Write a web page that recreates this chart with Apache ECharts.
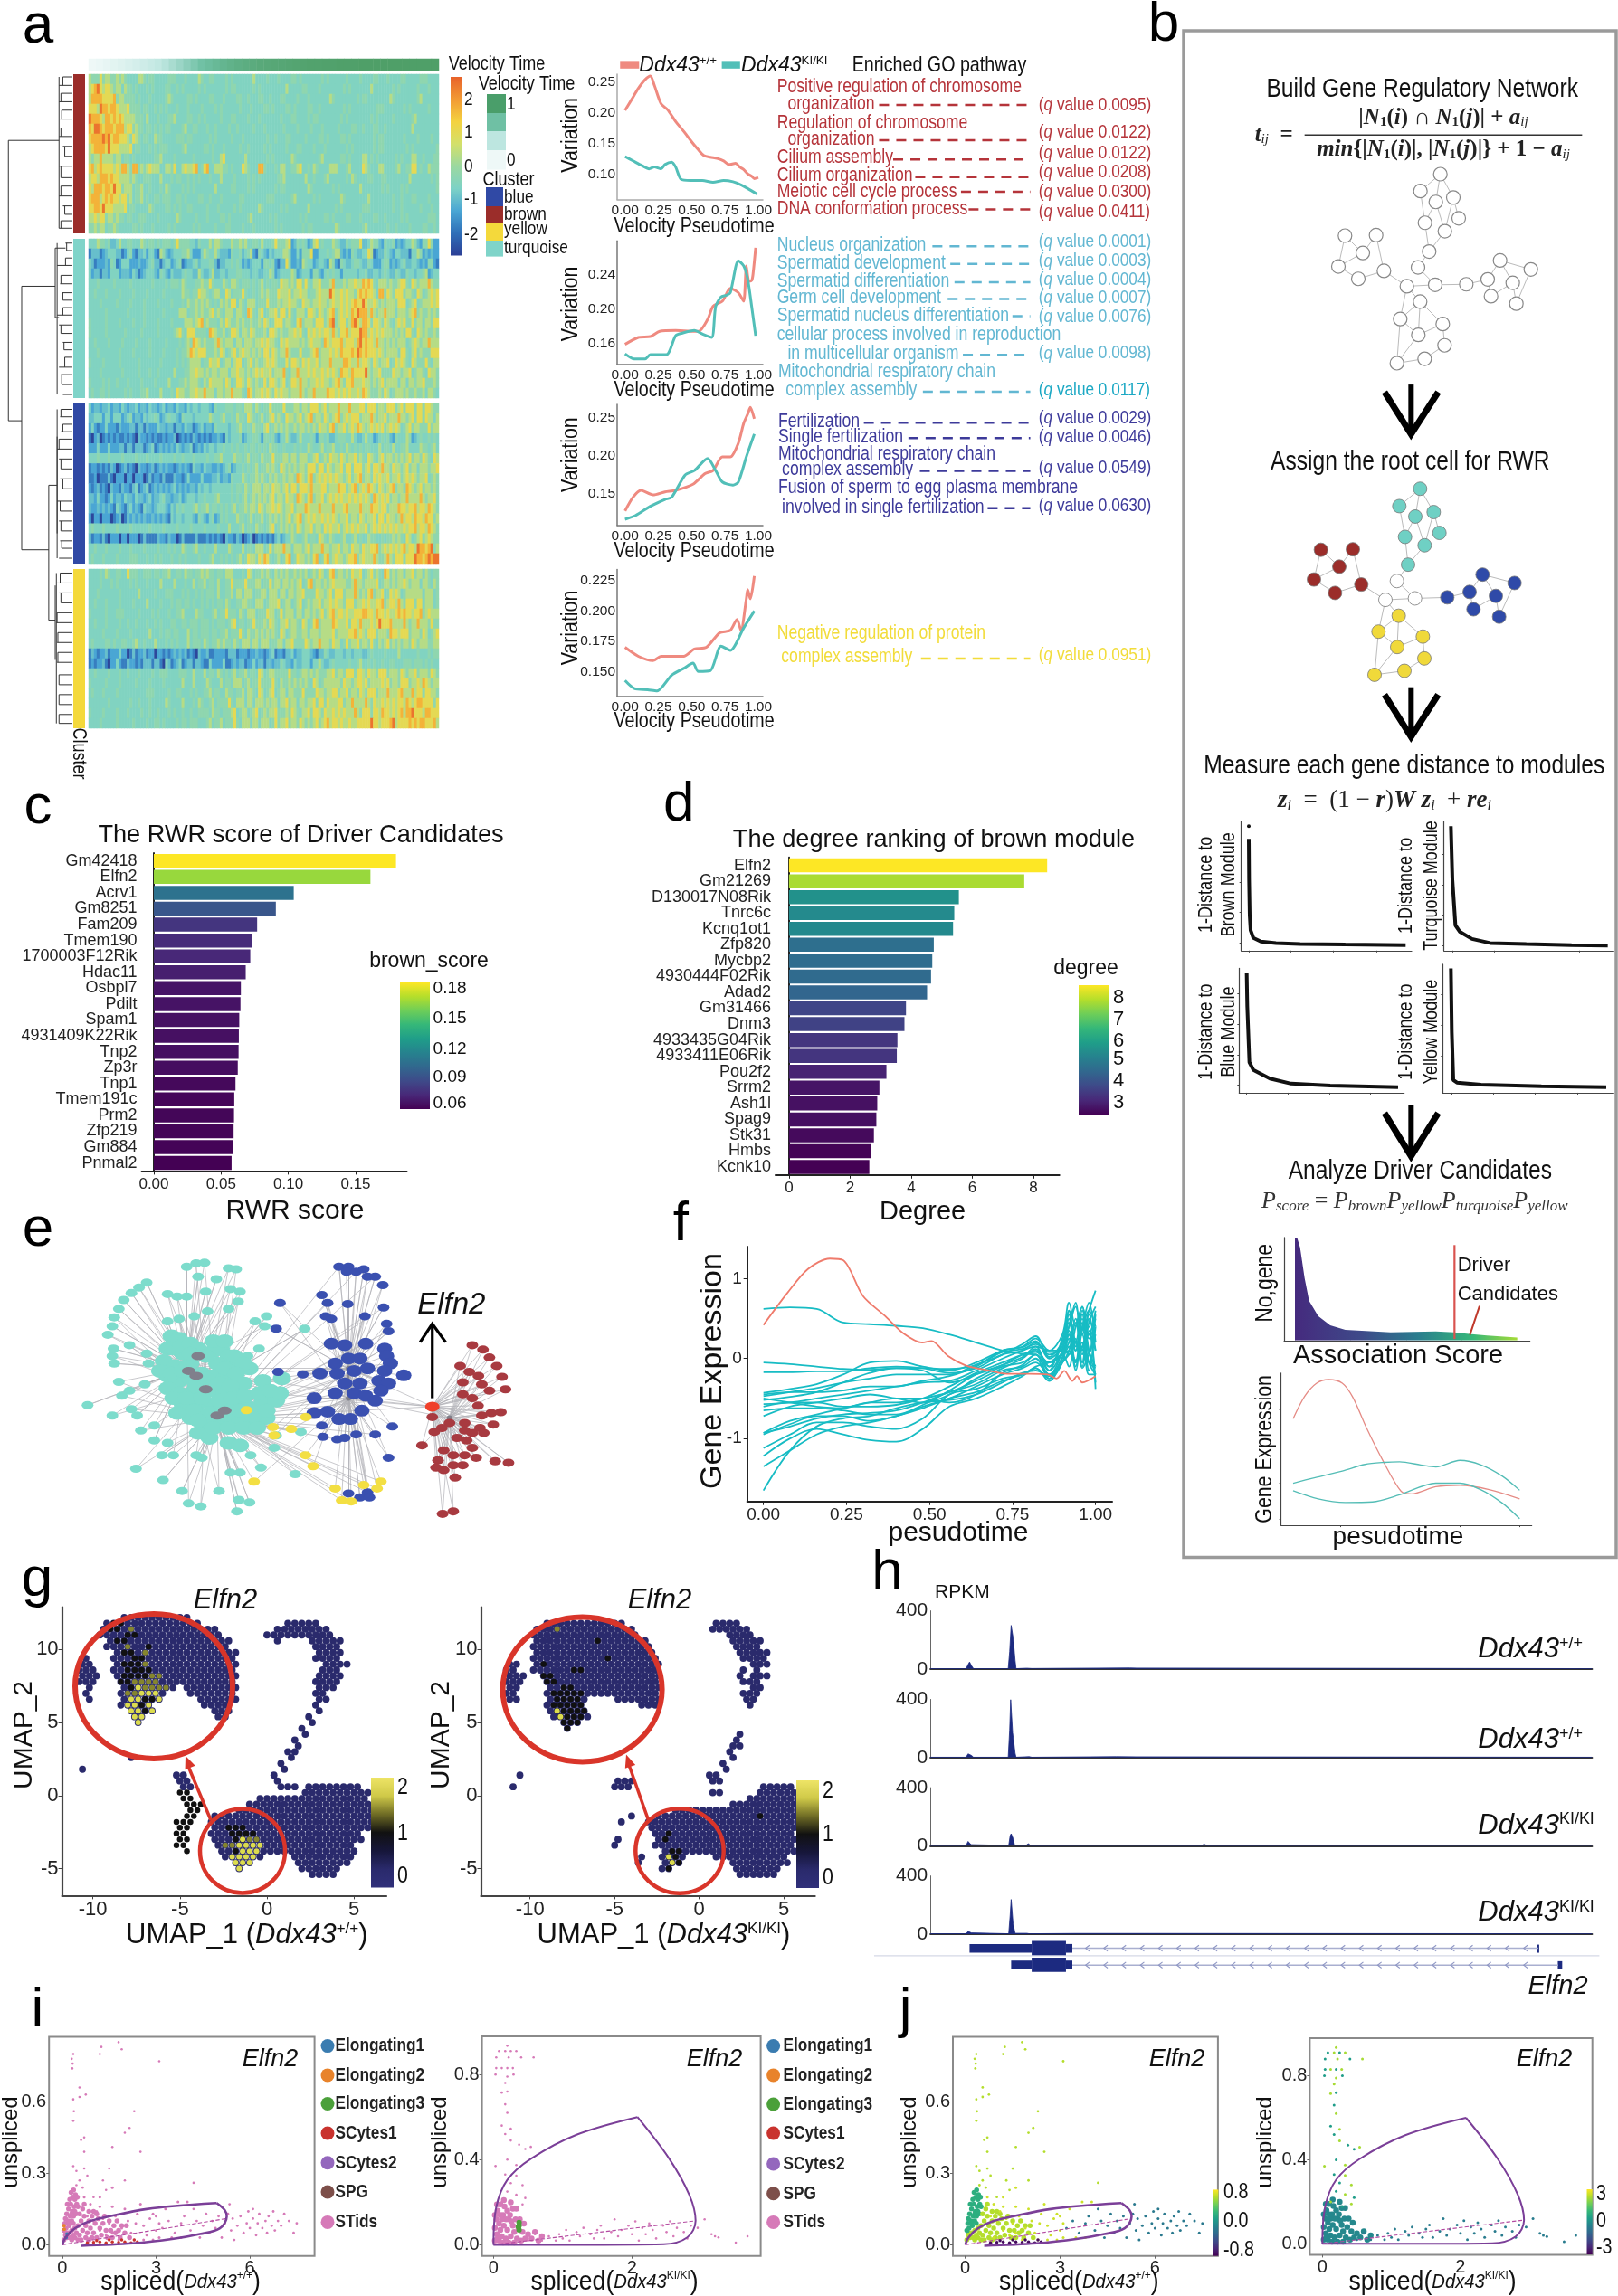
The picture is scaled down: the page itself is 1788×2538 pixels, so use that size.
<!DOCTYPE html>
<html><head><meta charset="utf-8">
<style>html,body{margin:0;padding:0;background:#fff}#c{width:1788px;height:2538px}</style>
<script src="https://cdn.jsdelivr.net/npm/echarts@6/dist/echarts.min.js"></script>
</head><body><div id="c"></div>
<script>
/* ===== DATA ===== */
const heatBrown=["6566565446454445454454544454445454444544445444454444544445444544","7877665554544454454445444454445444445445444444544445444454444454","7887766554454455445444544445444544454444544454444454444544445444","7788876655545454544454454445444454445444544444544444454444544444","8878877665545455445445444454444544444544454444454444544444454444","8988887765554554454544454445444454444454445444445444544444454444","8898887665545544545444544454444454445444445444544444454444445444","7888776655454554454445445444454445444454444544445444454444454444","6676665544445545444444546444544445444544445444544465444454464445","7787768686576466476848466454744854464574464465464474464454574465","7788776654554545545454545454454544554445454544455445445444544454","7888876655454554454544454454445444454444544454444544445445444444","8878777655545454544454445444544445444544454444544445444544454444","7887766554454455445444454445444544445444544445444454444544445444","6776655545445444544544445444454445444454444544454444544445444454","5665554454454445444454444544445444454444544445444454444454444544"];
const heatTurq=["4555354545554555655354565456545545656354365455345635534523453562","2323432423342533455236453345362433456235624456325346235243246232","3223424323253243423534523445234354236235424352434534235325342352","3323433332343433344353534345434345344534353454344353435343534534","4444444444444445554465645564554645566576566575657687566567566675","4444444444444444455575564655645565667576557686766787586676656567","4444444444444444455656546575565565657656667576768786756667565676","4444444444444444565565755656575656676565766676768887667656676565","4444444444444444456676555756565665766576667686768786766567566567","4444444444444445657655765575666557656675676776777887676656756656","4444444444444444456765576656566676567665766777777887766566566676","4444444444444444457776566566756576667565676676878887766657566567","4444444444444444546655765657566576656766766676786776666576565656","4444444444454445455766566567566766675676767676777786665666656566","4445444444444454556655766657666567665776667667677675666656566656","4454444545544545665767656676576676675676676777676776566566565565"];
const heatBlue=["3333333333333333333434344545565556565656676667676767666766767675","3434343433344344344344545455565556656666766667677667666676667665","3223222323223332333233344345455565656566566676667766766765666566","1212121212212122121312132344345354345354535434545354345344534454","2323232323232323333233435445455455544454545554555455455545545555","4444444444444444454444455455555556565656565666666656566656666656","2212212212222322232333323434455556566566767666676766776666665666","1112121212122212223232333344555655656676767676666766676666766656","2221222232323233323334344445556566666767767667767677666766766665","3322333333333433334344454445556566666676766676767676776666767666","2323232332333433544555554555566666766667767676776767776677777776","1212121323232323434343435445555556566676767676666666676667777776","4444444444444444444444444545555556565666666676676766767676777776","2221212121212222121212121222121212334545556554545545545565656675","4444444444444445454545454554555656676566667666666667767677778886","4444444454445444544444545455575775557575675767577676757676788899"];
const heatYellow=["4455454654545554555556545654565565566565566576657656657665666555","4444544454444545454555554565656556656665766576657666656657665655","4444444445444454454545554556565656565666566667667667665765666565","4444444444544444545545455545655656656565666676676676776776767565","4444454444445444554554555655565566566565666677767787777678777676","4444444544445445454555455565556566566656576677667767787767667665","4444444444454454545545545556565656565656566666677767666777666656","4445445454545454545555556555656565656656667666566666566656666656","2222232122221222322123122232213223223334323434343434444454444445","2131231312323132323231323133223323343334345344444545454544555454","4444454444444544454545555555555656556556565666676766676666666666","4444444444444444454545545556555656565656565666666766676667667766","4444444444454444544545554555565656565656566676666667667677677676","4444444445444454454554555656565666566656667667667676767677778776","4444444444454445445455555565656566656656676676767676777777887787","4444444444445444454545555565656565666666666777676778777877878877"];
/* fine column streaks of each block: 0 darker, 1 and 2 neutral, 3 brighter */
const streakBrown="10213012211031120112301102110311210120113102110120311021101130210112031101120311012101130211012011031102110123011021101103120110";
const streakTurq="21031201120310211203102113021102301120311021301120213102130112031201302113012031021302110320113021031203112031021301203110213012";
const streakBlue="30120213012031021302103120130210312031201302103120213012031203102130120312013021031201302103120312013021302103120130213012031021";
const streakYellow="11211031101211301120113012011302110311021301120310213011203102130120311020130213012031021302103120130213012031020130213012031021";
const streakRowShift=[0,37,11,73,29,97,53,5,83,19,61,41,113,7,89,31];
const velocityTime=[0,.02,.05,.08,.11,.14,.18,.22,.26,.3,.36,.42,.48,.54,.6,.66,.7,.74,.78,.81,.84,.86,.88,.9,.91,.92,.93,.94,.95,.96,.97,.97,.98,.98,.99,.99,.99,1,1,1,1,1,1,1,1,1,1,1];
const dendroBrown=[[155,165],[172,155],[188,160],[205,155],[222,162],[240,158],[258,160],[275,155],[295,165],[315,170],[335,155],[358,160],[375,160],[395,155],[415,165],[432,170],[445,160],[460,155]];
const dendroTurq=[[490,172],[505,175],[520,172],[535,150],[555,160],[572,158],[590,162],[605,165],[620,165],[635,150],[655,155],[672,160],[690,165],[705,168],[720,170],[740,155],[755,160],[775,162],[795,165]];
const dendroBlue=[[825,160],[840,158],[855,165],[870,160],[885,155],[905,150],[925,155],[945,160],[965,158],[985,165],[1010,150],[1030,158],[1050,155],[1070,160],[1090,158],[1105,162],[1125,155]];
const dendroYellow=[[1155,158],[1175,150],[1195,155],[1215,160],[1235,150],[1255,148],[1275,152],[1295,150],[1315,152],[1335,150],[1360,155],[1380,155],[1400,155],[1420,155],[1440,155],[1458,155]];
const dendroTrunk=[[[22,283],[155,283]],[[22,848],[57,848]],[[22,283],[22,848]],[[57,577],[57,1108]],[[57,577],[145,577]],[[57,1108],[128,1108]],[[128,978],[128,1250]],[[128,978],[150,978]],[[128,1250],[145,1250]],[[145,500],[145,640]],[[145,500],[172,500]],[[145,640],[155,640]],[[150,880],[150,1075]],[[145,1180],[145,1330]]];
const a1WT=[[0,.204],[.05,.222],[.1,.24],[.15,.254],[.19,.26],[.22,.245],[.27,.215],[.32,.205],[.38,.186],[.44,.17],[.5,.153],[.55,.14],[.59,.131],[.64,.128],[.69,.126],[.74,.122],[.78,.116],[.83,.118],[.86,.112],[.89,.108],[.92,.101],[.95,.097],[.97,.093],[1,.095]];
const a1KO=[[0,.129],[.06,.122],[.11,.116],[.13,.114],[.18,.109],[.22,.112],[.27,.109],[.3,.116],[.35,.12],[.38,.112],[.42,.092],[.49,.09],[.58,.09],[.66,.087],[.74,.09],[.81,.088],[.87,.083],[.92,.077],[.99,.068]];
const a2WT=[[0,.159],[.1,.167],[.19,.168],[.26,.174],[.38,.175],[.55,.174],[.62,.188],[.66,.203],[.73,.209],[.79,.224],[.85,.219],[.89,.209],[.91,.25],[.93,.232],[.95,.233],[.96,.24],[.98,.271]];
const a2KO=[[0,.148],[.07,.142],[.15,.142],[.19,.147],[.31,.147],[.38,.169],[.43,.172],[.52,.175],[.58,.171],[.65,.167],[.68,.203],[.72,.214],[.76,.216],[.79,.219],[.85,.256],[.89,.25],[.92,.235],[.95,.203],[.98,.169]];
const a3WT=[[0,.127],[.06,.145],[.12,.154],[.21,.148],[.3,.152],[.38,.154],[.51,.162],[.6,.176],[.66,.18],[.73,.198],[.79,.198],[.85,.216],[.89,.242],[.92,.254],[.94,.263],[.97,.248]];
const a3KO=[[0,.116],[.08,.121],[.19,.133],[.3,.142],[.35,.145],[.45,.174],[.52,.18],[.62,.196],[.68,.18],[.73,.165],[.81,.161],[.85,.165],[.91,.198],[.97,.228]];
const a4WT=[[0,.17],[.1,.1626],[.21,.159],[.27,.1626],[.44,.1626],[.52,.1686],[.61,.17],[.71,.182],[.79,.184],[.84,.193],[.87,.184],[.91,.21],[.92,.2176],[.94,.21],[.97,.2288]];
const a4KO=[[0,.1426],[.07,.136],[.17,.135],[.24,.134],[.35,.147],[.44,.1526],[.51,.157],[.55,.15],[.64,.1507],[.72,.171],[.79,.1675],[.89,.186],[.97,.2]];
const rwrGenes=["Gm42418","Elfn2","Acrv1","Gm8251","Fam209","Tmem190","1700003F12Rik","Hdac11","Osbpl7","Pdilt","Spam1","4931409K22Rik","Tnp2","Zp3r","Tnp1","Tmem191c","Prm2","Zfp219","Gm884","Pnmal2"];
const rwrScores=[.18,.161,.104,.0907,.0768,.0729,.0717,.0683,.0647,.0644,.0635,.0632,.063,.0624,.0607,.0598,.0596,.0593,.059,.0578];
const degGenes=["Elfn2","Gm21269","D130017N08Rik","Tnrc6c","Kcnq1ot1","Zfp820","Mycbp2","4930444F02Rik","Adad2","Gm31466","Dnm3","4933435G04Rik","4933411E06Rik","Pou2f2","Srrm2","Ash1l","Spag9","Stk31","Hmbs","Kcnk10"];
const degValues=[8.45,7.7,5.56,5.41,5.37,4.74,4.69,4.65,4.52,3.83,3.78,3.55,3.53,3.19,2.96,2.89,2.86,2.78,2.67,2.63];
const fX=[0,.08,.16,.24,.32,.4,.48,.56,.64,.72,.78,.82,.86,.9,.92,.94,.96,.98,1];
const fTeal=[[.62,.64,.62,.45,.43,.41,.38,.3,.2,.1,.06,.05,-.05,.05,.1,-.02,.15,-.05,-.12],[-.05,-.07,-.1,-.13,-.14,-.12,-.12,-.13,-.08,.08,.12,.18,.08,.1,.3,.15,.5,.25,.5],[-.17,-.17,-.16,-.16,-.12,-.1,-.12,-.18,-.12,.05,.1,.2,.05,.15,.55,.2,.6,.1,-.2],[-.43,-.38,-.32,-.2,-.05,-.03,-.1,-.15,-.05,.1,.15,.25,.1,.3,.7,.4,.65,.3,.6],[-.47,-.42,-.37,-.3,-.25,-.2,-.2,-.2,-.08,.05,.18,.28,.02,.2,.4,.65,.3,.6,.85],[-.52,-.48,-.42,-.3,-.18,-.12,-.15,-.3,-.2,-.08,.05,.1,-.1,.25,.6,.1,.4,.7,.2],[-.57,-.55,-.5,-.45,-.4,-.35,-.3,-.28,-.15,0,.1,.15,.1,.1,.2,.5,.05,.45,.65],[-.6,-.55,-.55,-.6,-.6,-.58,-.5,-.35,-.18,-.05,.05,.08,-.05,.05,.35,-.1,.3,-.05,-.2],[-.72,-.6,-.55,-.5,-.45,-.5,-.55,-.45,-.25,-.1,-.05,.05,-.2,-.05,.1,.45,-.05,.55,.1],[-.93,-.85,-.75,-.7,-.68,-.65,-.55,-.42,-.32,-.15,-.1,0,-.25,0,.15,-.15,.45,-.15,.4],[-.95,-.82,-.72,-.72,-.78,-.72,-.6,-.5,-.35,-.2,-.12,-.05,-.2,.1,.5,.1,.2,-.2,-.2],[-1.12,-.95,-.8,-.8,-.85,-.88,-.75,-.45,-.38,-.25,-.2,-.1,-.05,.05,-.1,.25,-.1,.35,-.3],[-1.22,-1,-.88,-.95,-1.02,-1.04,-.88,-.6,-.5,-.35,-.22,-.12,-.25,-.05,.3,-.05,.15,.4,-.38],[-1.35,-1.15,-.95,-.85,-.8,-.72,-.62,-.5,-.42,-.28,-.2,-.12,-.28,-.05,.05,.2,-.12,.05,.3],[-1.65,-1.15,-.85,-.75,-.72,-.62,-.55,-.52,-.45,-.3,-.18,-.15,-.22,.02,.25,-.05,.55,.1,-.1],[-.93,-.78,-.7,-.62,-.55,-.5,-.5,-.55,-.45,-.18,-.08,.05,-.15,.1,.45,.2,-.05,.5,.2],[-.5,-.55,-.6,-.62,-.55,-.55,-.5,-.42,-.28,-.12,0,.12,-.1,.2,.6,.1,.35,.6,.4],[-.65,-.62,-.62,-.65,-.7,-.7,-.58,-.4,-.2,-.08,.02,.15,-.15,.12,.05,.4,.65,.05,.55],[-.45,-.42,-.42,-.4,-.35,-.35,-.28,-.22,-.1,.1,.14,.22,0,.15,.4,.7,.1,.3,.1]];
const fSalmon=[[0,.42],[.07,.81],[.134,1.12],[.2,1.25],[.24,1.23],[.3,.78],[.367,.53],[.42,.32],[.478,.2],[.506,.22],[.556,.03],[.61,-.09],[.667,-.14],[.733,-.19],[.8,-.19],[.856,-.2],[.883,-.25],[.906,-.155],[.93,-.28],[.944,-.22],[.96,-.3],[1,-.22]];
/* network in panel b : same wiring, two colourings */
const bNodesPlain=[[965,351],[899,385],[950,407],[1008,398],[1026,440],[914,449],[980,466],[928,507],[891,539],[948,574],[854,577],[1051,573],[1122,563],[1163,525],[1265,543],[1205,570],[1133,597],[1217,612],[778,546],[693,562],[627,537],[708,510],[649,475],[752,474],[898,608],[832,643],[892,675],[973,653],[979,696],[913,723],[821,732]];
const bNodesColored=[[898,985],[829,1020],[882,1041],[943,1032],[962,1074],[848,1082],[913,1099],[858,1138],[821,1171],[881,1206],[783,1209],[988,1204],[1062,1193],[1105,1158],[1211,1175],[1149,1201],[1075,1228],[1160,1243],[703,1178],[616,1195],[546,1168],[630,1142],[569,1108],[675,1107],[827,1241],[760,1273],[822,1304],[907,1283],[912,1327],[846,1352],[747,1360]];
const bLinks=[[0,1],[0,2],[0,3],[1,5],[2,5],[2,6],[3,6],[3,4],[5,7],[6,7],[7,8],[8,9],[10,9],[9,11],[11,12],[12,13],[13,14],[13,15],[12,16],[15,16],[15,17],[14,17],[10,18],[18,19],[19,20],[20,21],[20,22],[22,21],[21,23],[23,18],[10,25],[10,24],[24,25],[24,26],[24,27],[25,26],[26,27],[27,28],[28,29],[29,30],[26,30],[25,30]];
const bClusterOf="tttttttt" + "www" + "bbbbbbb" + "rrrrrr" + "yyyyyyy";
/* module curves, panel b */
const curveBrown=[[330,120],[331,200],[333,270],[336,300],[345,315],[370,322],[420,325],[500,327],[650,328],[850,329]];
const curveTurq=[[1000,95],[1005,200],[1015,290],[1030,303],[1070,317],[1130,325],[1250,327],[1400,329],[1520,330]];
const curveBlue=[[323,385],[325,450],[332,560],[345,575],[400,592],[470,602],[600,606],[825,609]];
const curveYellow=[[1000,375],[1003,500],[1008,595],[1020,600],[1100,604],[1300,607],[1515,609]];
const densityScore=[[483,6],[483,203],[490,203],[500,183],[515,123],[530,78],[560,48],[600,30],[650,21],[800,16],[950,18],[1010,16],[1060,13],[1120,10],[1220,6]];
const exprSalmon=[[477,1262],[515,1218],[555,1192],[595,1185],[640,1192],[675,1220],[720,1280],[775,1345],[835,1405],[870,1410],[950,1396],[1030,1393],[1130,1402],[1228,1420]];
const exprTeal1=[[477,1389],[550,1378],[640,1365],[715,1352],[780,1348],[830,1347],[900,1353],[950,1357],[1030,1344],[1100,1353],[1170,1375],[1228,1403]];
const exprTeal2=[[477,1404],[560,1420],[650,1427],[740,1426],[830,1412],[950,1389],[1030,1389],[1100,1402],[1170,1428],[1228,1459]];
/* network in panel e */
const eTurq=[[385,1017],[365,1027],[345,1038],[325,1052],[312,1070],[300,1087],[295,1105],[283,1122],[340,1143],[298,1150],[295,1165],[385,1160],[300,1180],[390,1180],[312,1217],[380,1222],[340,1235],[320,1245],[230,1264],[295,1285],[345,1272],[360,1285],[405,1305],[370,1315],[405,1335],[440,1340],[425,1365],[455,1365],[357,1392],[428,1415],[490,985],[515,978],[537,977],[520,1005],[600,988],[620,990],[568,1010],[605,1030],[630,1035],[540,1035],[440,1040],[465,1045],[490,1045],[625,1055],[600,1070],[545,1075],[510,1085],[470,1090],[440,1095],[700,1085],[670,1095],[695,1105],[800,1110],[680,1150],[650,1165],[515,1365],[530,1370],[658,1365],[685,1390],[605,1400],[630,1400],[775,1403],[478,1437],[575,1437],[627,1455],[655,1460],[495,1462],[527,1468],[622,1478],[725,1325],[720,1350],[790,1318],[740,1235]];
const eTurqCore=[[450,1125],[470,1130],[440,1150],[480,1160],[560,1155],[580,1150],[600,1165],[430,1175],[460,1185],[500,1180],[570,1180],[610,1190],[440,1205],[470,1215],[500,1210],[530,1200],[560,1205],[590,1210],[620,1215],[440,1230],[470,1240],[510,1235],[560,1235],[590,1240],[620,1240],[480,1265],[520,1260],[560,1265],[600,1265],[630,1260],[660,1270],[690,1255],[725,1255],[500,1290],[540,1300],[580,1300],[620,1290],[650,1295],[680,1295],[700,1290],[740,1210],[690,1215],[520,1320],[550,1330],[600,1340],[630,1345],[640,1220],[655,1190],[455,1150],[475,1145],[500,1140],[520,1150],[540,1165],[420,1195],[450,1200],[480,1195],[515,1225],[540,1210],[575,1220],[605,1225],[455,1250],[490,1250],[530,1250],[575,1255],[610,1250],[645,1245],[680,1240],[710,1235],[465,1280],[510,1275],[550,1280],[590,1285],[630,1275],[665,1285],[700,1275],[735,1240],[520,1295],[560,1310],[600,1310],[640,1310],[675,1310],[560,1135],[590,1135],[615,1165],[640,1180],[590,1190],[620,1200],[500,1160]];
const eBlue=[[890,985],[915,985],[910,995],[935,995],[955,990],[965,1005],[985,1005],[1005,1022],[845,1042],[860,1058],[913,1060],[735,1058],[1007,1067],[855,1085],[870,1090],[958,1085],[725,1110],[1015,1100],[1020,1115],[870,1140],[905,1143],[960,1140],[1010,1150],[1015,1165],[880,1180],[915,1170],[945,1170],[1025,1180],[730,1197],[795,1202],[840,1200],[885,1200],[930,1195],[965,1190],[1010,1195],[1060,1204],[905,1220],[945,1220],[995,1215],[1020,1220],[825,1250],[880,1240],[930,1240],[960,1245],[1000,1235],[825,1280],[860,1277],[950,1275],[985,1255],[890,1292],[920,1292],[845,1305],[1030,1307],[848,1328],[885,1333],[905,1330],[935,1323],[985,1323],[1020,1370],[915,1442],[965,1440],[945,1450],[970,1450]];
const eYellow=[[647,1274],[803,1288],[717,1308],[765,1312],[720,1325],[802,1365],[822,1387],[667,1418],[880,1432],[955,1425],[990,1432],[1000,1418],[897,1456],[922,1458]];
const eBrown=[[1240,1143],[1268,1152],[1285,1168],[1304,1185],[1208,1185],[1232,1197],[1256,1205],[1318,1207],[1215,1218],[1265,1222],[1285,1235],[1327,1232],[1215,1242],[1240,1250],[1255,1265],[1135,1288],[1180,1300],[1220,1300],[1265,1285],[1290,1280],[1315,1278],[1295,1303],[1160,1310],[1220,1315],[1260,1310],[1140,1318],[1200,1330],[1240,1320],[1270,1320],[1108,1345],[1240,1350],[1225,1335],[1165,1355],[1190,1365],[1220,1365],[1250,1370],[1150,1375],[1190,1385],[1215,1385],[1300,1377],[1335,1380],[1145,1390],[1165,1395],[1195,1410],[1190,1478],[1162,1483]];
const eElfn2=[1135,1267];
const eHubsTurq=[[490,1190],[540,1230],[570,1290]];
const eHubsBlue=[[915,1190],[915,1250]];
const eHubsBrown=[[1180,1290]];
const eGreyPatches=[[495,1195],[540,1232],[520,1165],[570,1285],[515,1205],[590,1275]];
/* UMAP occupancy, [row, firstColumn, lastColumn] */
const gLNavy=[[1,8,17],[2,6,19],[3,5,21],[4,5,22],[5,6,23],[6,6,23],[7,7,24],[8,7,24],[8,3,3],[9,2,3],[9,7,24],[10,2,4],[10,7,24],[11,2,4],[11,7,24],[12,2,4],[12,8,24],[13,3,3],[13,8,15],[13,17,24],[14,3,3],[14,8,14],[14,18,24],[15,3,3],[15,8,13],[15,19,24],[16,8,12],[16,20,23],[17,9,12],[17,21,23],[18,10,11],[18,22,23],[19,10,10],[2,32,36],[3,30,37],[4,29,38],[5,30,30],[5,35,39],[6,36,39],[7,36,39],[8,36,39],[9,37,40],[10,37,39],[11,36,39],[12,36,39],[13,36,38],[14,36,37],[15,36,37],[16,36,36],[17,36,36],[18,35,35],[19,35,35],[20,34,34],[21,34,34],[22,33,33],[23,33,33],[24,32,33],[25,32,32],[26,31,31],[27,31,31],[28,30,30],[29,30,30],[27,2,2],[25,9,9],[30,31,33],[30,35,42],[31,34,43],[32,28,43],[33,26,43],[34,25,44],[35,21,44],[36,21,44],[37,21,44],[38,21,42],[39,21,42],[40,22,41],[41,22,41],[42,23,28],[42,33,41],[43,24,26],[43,33,40],[44,25,25],[44,34,39],[45,35,38],[28,16,17],[29,16,17],[30,17,18]];
const gLBlack=[[31,16,17],[32,17,18],[33,17,19],[34,18,19],[35,17,18],[36,16,18],[37,16,17],[38,16,17],[39,16,17],[40,16,17],[41,17,17],[37,23,25],[38,24,27],[39,24,25],[41,24,24],[2,7,8],[3,6,7],[4,9,10],[5,7,8],[6,12,12],[7,8,9],[8,10,11],[9,8,10],[10,9,12],[11,8,11],[12,8,9],[13,9,9],[15,11,12],[16,11,11],[17,11,11]];
const gLOlive=[[3,9,9],[6,9,9],[7,11,11],[9,11,11],[11,12,13],[12,10,13],[13,11,14],[14,9,10],[39,26,27],[40,23,24]];
const gLYellow=[[13,10,10],[14,11,13],[15,9,10],[15,13,13],[16,9,10],[16,12,12],[17,9,10],[17,12,12],[18,10,11],[19,10,10],[40,25,28],[41,25,27],[42,24,27],[43,24,26],[44,25,25],[39,25,25]];
const gRNavy=[[2,9,20],[3,7,21],[4,7,22],[5,7,23],[6,7,24],[7,7,24],[8,7,25],[9,3,4],[9,7,25],[10,3,4],[10,7,25],[11,3,5],[11,8,25],[12,3,5],[12,9,25],[13,3,4],[13,9,25],[14,3,4],[14,9,25],[15,3,4],[15,9,14],[15,19,25],[16,9,14],[16,23,25],[17,9,14],[18,10,15],[19,11,13],[20,12,12],[2,34,37],[3,33,38],[4,36,39],[5,36,40],[6,37,40],[7,37,41],[8,38,41],[9,39,41],[10,38,38],[10,40,40],[11,37,37],[11,39,41],[12,38,40],[13,39,40],[14,38,40],[15,38,39],[16,39,39],[21,37,37],[22,37,37],[23,36,37],[24,36,36],[25,36,36],[26,35,35],[27,35,35],[28,33,34],[29,33,34],[28,5,5],[30,4,4],[29,19,21],[30,19,21],[35,21,21],[36,20,20],[39,19,19],[40,19,19],[42,23,23],[43,22,22],[30,41,45],[31,33,34],[31,40,46],[32,39,46],[33,36,46],[34,28,46],[35,25,46],[36,24,46],[37,24,46],[38,25,45],[39,25,45],[40,25,45],[41,26,45],[42,26,29],[42,34,44],[43,26,28],[43,36,44],[44,26,27],[44,37,43],[45,37,42]];
const gRBlack=[[9,8,8],[11,8,9],[12,9,10],[13,11,12],[14,10,14],[15,10,13],[16,10,14],[17,10,14],[18,11,14],[19,11,13],[20,12,12],[5,16,16],[8,18,18],[10,13,14],[38,27,27],[39,26,26],[41,27,28],[42,27,28],[43,27,28],[44,27,27],[35,40,40]];
const gROlive=[[3,10,10]];
const gRYellow=[[18,11,11],[17,10,10],[43,27,27],[42,27,27]];
/* RPKM tracks */
const track1=[[163,2],[236,2],[240,30],[243,48],[247,22],[251,2],[322,2],[325,120],[328,300],[332,215],[336,60],[338,2],[360,5],[370,3],[570,7],[585,6],[1515,2]];
const track2=[[163,2],[236,2],[240,25],[242,35],[247,14],[251,2],[322,2],[325,190],[327,398],[331,170],[336,30],[338,2],[365,6],[370,2],[543,6],[585,5],[1515,2]];
const track3=[[163,2],[236,2],[240,30],[242,41],[246,8],[248,2],[323,2],[326,70],[328,83],[332,50],[335,4],[358,2],[363,14],[368,2],[545,4],[568,4],[718,2],[722,12],[728,2],[1515,2]];
const track4=[[163,2],[236,2],[240,18],[243,27],[247,8],[250,2],[323,2],[326,130],[328,238],[332,70],[336,5],[360,5],[365,2],[460,4],[560,4],[600,4],[1515,2]];
/* phase portraits */
const i1Top=[[.3,.78],[.35,.8],[.33,.76],[.32,.74],[1.2,.8],[1.25,.83],[1.8,.85],[1.9,.82],[3.1,.77],[.55,.66],[.35,.61],[.55,.62],[.75,.63],[.37,.56],[2.3,.56],[.7,.45],[2.15,.49],[2,.47],[.35,.52],[.6,.44],[1.6,.41],[.7,.39],[2.5,.39],[.35,.33],[.45,.31],[.7,.32],[1.5,.32],[.55,.27],[.8,.29],[1.3,.27],[2,.27],[4.2,.26],[.45,.25],[.65,.24],[1.4,.23],[1,.2]];
const i1Mid=[[.7,.2],[.9,.17],[1.1,.14],[1.3,.11],[1.5,.09],[1.7,.12],[1.9,.07],[2.1,.1],[2.2,.05],[2.4,.13],[2.6,.08],[2.7,.04],[2.8,.11],[2.9,.13],[3,.06],[3.1,.09],[1.2,.16],[1.6,.16],[2,.15],[2.5,.17],[3.3,.15],[3.5,.03],[2.3,.02],[3.8,.03],[1,.1],[.8,.12],[1.4,.04],[1.8,.02],[2.6,.02],[1.2,.06],[.9,.03],[3.1,.03],[3,.12],[2.35,.09],[1.6,.05],[2.9,.02],[4,.18],[3.7,.18],[1.2,.2],[1.6,.24]];
const i1Right=[[3.2,.07],[3.4,.1],[3.6,.05],[3.8,.09],[3.9,.12],[4.1,.06],[4.3,.1],[4.4,.03],[4.5,.08],[4.6,.13],[4.7,.05],[4.8,.1],[4.9,.07],[5,.12],[5.1,.03],[5.2,.09],[5.3,.13],[5.4,.06],[5.45,.11],[5.5,.02],[5.6,.08],[5.7,.12],[5.8,.05],[5.9,.09],[5.95,.14],[6,.07],[6.1,.11],[6.2,.04],[6.25,.09],[6.3,.13],[6.4,.07],[6.5,.1],[6.55,.05],[6.6,.12],[6.7,.08],[6.75,.14],[6.8,.06],[6.9,.1],[7,.08],[7.1,.13],[7.25,.1],[7.4,.05],[7.5,.09],[5.35,.17],[4.2,.15],[6.1,.15]];
const i1Low=[[.8,.008],[1,.01],[1.2,.012],[1.4,.008],[1.6,.012],[1.8,.01],[2,.012],[2.2,.008],[2.4,.012],[1.1,.018],[1.5,.02],[1.9,.02],[2.3,.02]];
const i1DenseUp=[[.05,.06],[.08,.09],[.12,.07],[.1,.11],[.14,.13],[.18,.1],[.2,.15],[.22,.08],[.25,.12],[.27,.17],[.3,.1],[.32,.14],[.33,.2],[.36,.12],[.38,.16],[.4,.19],[.42,.21],[.44,.13],[.46,.17],[.36,.23],[.28,.22],[.48,.2],[.24,.19],[.16,.17],[.12,.05],[.3,.13],[.2,.09],[.35,.09],[.4,.14],[.5,.16]];
const i1DenseLow=[[.05,.02],[.1,.04],[.15,.03],[.2,.05],[.25,.03],[.3,.06],[.35,.04],[.4,.07],[.45,.05],[.5,.08],[.55,.04],[.6,.1],[.65,.06],[.7,.12],[.75,.08],[.8,.05],[.85,.1],[.9,.07],[.95,.12],[1,.05],[1.05,.09],[1.1,.03],[1.15,.11],[1.2,.07],[1.25,.04],[1.3,.09],[1.35,.12],[1.4,.06],[1.45,.03],[1.5,.1],[1.55,.06],[1.6,.03],[1.65,.08],[1.7,.05],[1.75,.1],[1.8,.06],[1.85,.03],[1.9,.08],[2,.05],[2.05,.08],[2.15,.03],[.55,.13],[.65,.15],[.75,.03],[.85,.02],[.95,.03],[.5,.02],[.6,.02],[.7,.17],[.85,.14],[1,.14],[1.1,.13],[.4,.03],[.3,.02]];
const i1LoopUp=[[0,0],[.1,.03],[.4,.069],[.9,.1],[1.7,.125],[2.7,.15],[3.6,.163],[4.94,.175]];
const i1LoopDown=[[4.94,.175],[5.2,.145],[5.26,.119],[5.04,.069],[4.4,.045],[3.56,.025],[2.26,.006],[.6,-.004]];
const i1Dashed=[[0,0],[5.26,.11]];
const i2Col=[[.2,.935],[.08,.91],[.17,.91],[.25,.91],[.33,.91],[.04,.88],[.22,.88],[.4,.88],[.58,.88],[.04,.83],[.12,.83],[.2,.83],[.28,.83],[.03,.8],[.2,.79],[.29,.8],[.17,.76],[.2,.72],[.12,.715],[.17,.66],[.2,.62],[.12,.56],[.25,.545],[.17,.52],[.25,.49],[.37,.47],[.54,.46],[.46,.45],[.03,.37],[.2,.4],[.33,.375],[.17,.33],[.33,.325],[.25,.29],[.42,.28],[.2,.25],[.33,.235],[.46,.22],[.12,.2],[.29,.177],[.42,.19]];
const i2Dense=[[.02,.02],[.05,.05],[.08,.02],[.1,.07],[.12,.04],[.15,.09],[.18,.03],[.2,.07],[.22,.12],[.25,.04],[.28,.09],[.3,.06],[.02,.08],[.04,.12],[.06,.16],[.08,.1],[.1,.19],[.14,.14],[.16,.18],[.2,.16],[.24,.14],[.28,.17],[.32,.12],[.34,.03],[.36,.08],[.4,.02],[.42,.06],[.46,.03],[.5,.05],[.55,.03],[.02,.14],[.12,.12],[.18,.12],[.26,.11],[.06,.03],[.14,.01],[.22,.01],[.3,.01],[.38,.12],[.44,.1],[.15,.21],[.25,.2],[.05,.19],[.33,.17],[.1,.14],[.6,.06],[.65,.02],[.7,.04]];
const i2Green=[[.37,.07],[.37,.09],[.37,.105],[.36,.085]];
const i2Bottom=[[.5,.02],[.6,.05],[.7,.02],[.8,.04],[.9,.02],[.95,.05],[1,.03],[1.05,.07],[1.1,.02],[1.2,.06],[1.25,.04],[1.3,.08],[1.4,.05],[1.45,.03],[1.5,.07],[1.55,.09],[1.6,.03],[1.7,.06],[1.75,.12],[1.8,.04],[1.85,.07],[1.95,.09],[2,.05],[2.05,.11],[2.1,.02],[2.15,.08],[2.2,.05],[2.25,.1],[2.3,.07],[2.35,.03],[2.45,.09],[2.5,.06],[2.55,.11],[2.6,.04],[2.65,.08],[2.75,.06],[2.8,.03],[2.85,.09],[2.95,.08],[3.05,.12],[3.15,.05],[3.2,.04],[3.25,.035],[3.5,.01],[3.67,.04]];
const i2LoopUp=[[0,0],[.04,.177],[.2,.305],[.54,.404],[1.2,.517],[2.08,.6]];
const i2LoopDown=[[2.08,.6],[2.54,.404],[2.83,.234],[2.92,.113],[2.8,.035],[2.46,.003],[1.2,0],[0,0]];
const i2Dashed=[[0,0],[2.92,.113]];
const cellTypes=["Elongating1","Elongating2","Elongating3","SCytes1","SCytes2","SPG","STids"];
const cellColors=["#3a7cb0","#e8832b","#4ba03a","#c9332e","#9467bd","#7d4f4a","#d67ab8"];

/* ===== helpers ===== */
const N='narrow', S='"Liberation Sans",Arial,sans-serif', SER='"Liberation Serif",serif';
const Z1=(x,y)=>[x*.4209,y*.5485],Z2=(x,y)=>[620+.4209*x,40+.4974*y],Z3=(x,y)=>[1270+x/3,y*.5485],Z4=(x,y)=>[1270+x/3,860+.5612*y],Z5=(x,y)=>[.4209*x,860+.5485*y],Z6=(x,y)=>[640+.4082*x,860+.5485*y],Z7=(x,y)=>[.5867*x,1710+.328*y],Z8=(x,y)=>[940+.5408*x,1710+.333*y],Z9=(x,y)=>[.6378*x,2180+.333*y],Z10=(x,y)=>[980+.5153*x,2180+.333*y];
const grids=[],xAxes=[],yAxes=[],series=[],graphics=[],visualMaps=[];
function ax(o){o=o||{};return {type:'value',min:o.min,max:o.max,inverse:!!o.inverse,show:o.show!==false,
 axisLine:{show:o.line!==false,onZero:false,lineStyle:{color:o.lc||'#333',width:o.lw||1.5}},
 axisTick:{show:!!o.ticks&&o.tick!==false,customValues:o.ticks,length:o.tl||4,lineStyle:{color:o.lc||'#333',width:1}},
 axisLabel:{show:!!o.fmt,customValues:o.ticks,formatter:o.fmt,fontFamily:S,fontSize:o.fs||15,color:o.color||'#222',margin:o.margin==null?4:o.margin},
 splitLine:{show:false}};}
function G(l,t,w,h,x,y,extra){const i=grids.length;grids.push(Object.assign({left:l,top:t,width:w,height:h,containLabel:false,show:false},extra||{}));x.gridIndex=i;y.gridIndex=i;xAxes.push(x);yAxes.push(y);return i;}
function add(g,s){series.push(Object.assign({xAxisIndex:g,yAxisIndex:g,animation:false,silent:true},s));return series.length-1;}
function T(x,y,text,size,o){o=o||{};const nar=(o.fam||N)===N;graphics.push({type:'text',x,y,rotation:o.rot||0,scaleX:o.sx||(nar?.82:1),z:100,silent:true,style:{text,fontSize:size,fontFamily:nar?S:o.fam,fontStyle:o.it?'italic':'normal',fontWeight:o.bold?'bold':'normal',fill:o.color||'#111',align:o.align||'center',verticalAlign:'middle',rich:o.rich}});}
const TZ=(Z,x,y,text,size,o)=>{const p=Z(x,y);T(p[0],p[1],text,size,o);};
function LN(a,b,color,w,dash){graphics.push({type:'line',z:99,silent:true,shape:{x1:a[0],y1:a[1],x2:b[0],y2:b[1]},style:{stroke:color,lineWidth:w,lineDash:dash}});}
function PL(pts,color,w,cap){graphics.push({type:'polyline',z:99,silent:true,shape:{points:pts},style:{stroke:color,lineWidth:w,fill:null,lineCap:cap||'butt',lineJoin:'miter'}});}
function RC(x,y,w,h,fill){graphics.push({type:'rect',z:98,silent:true,shape:{x,y,width:w,height:h},style:{fill:fill}});}
function RZ(Z,x0,y0,x1,y1,fill){const a=Z(x0,y0),b=Z(x1,y1);RC(a[0],a[1],b[0]-a[0],b[1]-a[1],fill);}
function EL(cx,cy,rx,ry,color,w){graphics.push({type:'ellipse',z:99,silent:true,shape:{cx,cy,rx,ry},style:{fill:'none',stroke:color,lineWidth:w}});}
function CB(x,y,w,h,cols){const n=cols.length-1;graphics.push({type:'rect',z:98,silent:true,shape:{x,y,width:w,height:h},style:{fill:new echarts.graphic.LinearGradient(0,0,0,1,cols.map((c,i)=>({offset:i/n,color:c})))}});}
const VIR=['#440154','#482878','#3e4a89','#31688e','#26828e','#1f9e89','#35b779','#6ece58','#b5de2b','#fde725'];
function lerpC(cols,t){t=Math.max(0,Math.min(1,t));const f=t*(cols.length-1),i=Math.min(Math.floor(f),cols.length-2),r=f-i;const p=s=>[1,3,5].map(k=>parseInt(s.substr(k,2),16));const a=p(cols[i]),b=p(cols[i+1]);return 'rgb('+a.map((v,k)=>Math.round(v+(b[k]-v)*r)).join(',')+')';}
function GT(Z,x,y,size,s){const rich={d:{fontSize:size,fontStyle:'italic',fontFamily:S,fill:'#111'},s:{fontSize:size*.58,fontFamily:S,verticalAlign:'top',fill:'#111'}};TZ(Z,x,y,'{d|Ddx43}{s|'+s+'}',size,{rich,align:'left',fam:S});}
function panelLetter(Z,x,y,c){TZ(Z,x,y,c,62,{fam:S,color:'#000'});}

/* ===== panel a ===== */
panelLetter(Z1,100,55,'a');
const HEAT=['#2c3f96','#2f6fb8','#4aa6d4','#7dd2c6','#9bd8a0','#d3e06a','#f4d23f','#f29a35','#e8622a'];
const heatLevel=[-2.4,-1.7,-1.25,-.9,-.55,-.25,.3,.95,1.6,2.3];
const catAxis=(n,inv)=>({type:'category',data:Array.from({length:n},(_,i)=>i),inverse:!!inv,show:false,splitLine:{show:false}});
const heatPanels=[[heatBrown,streakBrown,82,176,'#9b2d2a'],[heatTurq,streakTurq,264,176,'#7fd4c9'],[heatBlue,streakBlue,446,177,'#3049a5'],[heatYellow,streakYellow,629,176,'#f4d93b']];
const heatIdx=[];
heatPanels.forEach(p=>{const rows=p[0],st=p[1],n=st.length;const g=G(98,p[2],387,p[3],catAxis(n),catAxis(rows.length,true));
 const d=[];rows.forEach((r,ri)=>{for(let c=0;c<n;c++){const base=+r[Math.floor(c/2)],s=+st[(c+streakRowShift[ri])%n];
   const adj=s===3?1:(s===0&&base!==4?-1:0);
   d.push([c,ri,heatLevel[Math.max(0,Math.min(9,base+adj))]]);}});
 heatIdx.push(add(g,{type:'heatmap',data:d,progressive:0,itemStyle:{borderWidth:0}}));
 RC(81,p[2],13,p[3],p[4]);});
visualMaps.push({show:false,seriesIndex:heatIdx,dimension:2,min:-2.5,max:2.5,inRange:{color:HEAT}});
const vtG=G(98,65,387,13,catAxis(velocityTime.length),catAxis(1));
const vtS=add(vtG,{type:'heatmap',data:velocityTime.map((v,i)=>[i,0,v]),progressive:0});
visualMaps.push({show:false,seriesIndex:[vtS],dimension:2,min:0,max:1,inRange:{color:['#eef8f7','#bde6e0','#6fc0a4','#4f9f68']}});
/* dendrogram */
const dG=G(22*.4209,0,168*.4209,860,ax({min:22,max:190,show:false}),ax({min:0,max:1568,inverse:true,show:false}));
const dSeg=[];dendroTrunk.forEach(s=>{dSeg.push(s[0],s[1],null);});
[dendroBrown,dendroTurq,dendroBlue,dendroYellow].forEach(list=>{let mn=999;list.forEach(l=>{dSeg.push([l[1],l[0]],[190,l[0]],null);mn=Math.min(mn,l[1]);});
 dSeg.push([mn,list[0][0]],[mn,list[list.length-1][0]],null);
 for(let i=0;i+1<list.length;i+=2){const x=Math.max(list[i][1],list[i+1][1]);dSeg.push([x,list[i][0]],[x,list[i+1][0]],null);}});
add(dG,{type:'line',data:dSeg.map(p=>p?p:[null,null]),connectNulls:false,symbol:'none',lineStyle:{color:'#333',width:1}});
T(87.5,833,'Cluster',22,{rot:-Math.PI/2});
T(549,71,'Velocity Time',22);T(582,93,'Velocity Time',22);
CB(498,85,13,197.5,HEAT.slice().reverse());
[[110,'2'],[146,'1'],[184,'0'],[220.5,'-1'],[259,'-2']].forEach(l=>T(513,l[0],l[1],21,{align:'left'}));
[[104,21,'#4a9e6a'],[125,20,'#6fc0a4'],[145,21,'#bde6e0'],[166,21.6,'#eef8f7']].forEach(r=>RC(538,r[0],21,r[1],r[2]));
T(560,115,'1',21,{align:'left'});T(560,177,'0',21,{align:'left'});
T(562,199,'Cluster',22);
[[207,21,'#3049a5'],[228,19,'#9b2d2a'],[247,19,'#f4d93b'],[266,17.6,'#7fd4c9']].forEach(r=>RC(537,r[0],19,r[1],r[2]));
[[218,'blue'],[237.5,'brown'],[253,'yellow'],[274,'turquoise']].forEach(l=>T(557,l[0],l[1],21,{align:'left'}));
/* pseudotime panels */
const SAL='#ef8a80',TEA='#52bfb8';
const fmt2=v=>v.toFixed(2),fmt3=v=>v.toFixed(3);
[[82,138.6,.059,.263,[.10,.15,.20,.25],fmt2,a1WT,a1KO,231.5,250.4,149.4,'#aaa'],
 [266.3,136.7,.1355,.279,[.16,.20,.24],fmt2,a2WT,a2KO,413,431.5,336,'#777'],
 [447,133.7,.108,.267,[.15,.20,.25],fmt2,a3WT,a3KO,590,609.5,502.6,'#777'],
 [629.4,140.3,.1296,.2343,[.15,.175,.2,.225],fmt3,a4WT,a4KO,778.6,797.5,694,'#777']].forEach(p=>{
 const g=G(682,p[0],161,p[1],ax({min:-.059,max:1.034,ticks:[0,.25,.5,.75,1],fmt:fmt2,lc:p[11],tick:false,margin:4,fs:15.5}),ax({min:p[2],max:p[3],ticks:p[4],fmt:p[5],lc:p[11],tick:false,margin:2,fs:15.5}));
 add(g,{type:'line',data:p[6],symbol:'none',smooth:.25,lineStyle:{color:SAL,width:3}});
 add(g,{type:'line',data:p[7],symbol:'none',smooth:.25,lineStyle:{color:TEA,width:3}});
 T(767,p[9],'Velocity Pseudotime',24);T(630.5,p[10],'Variation',26,{rot:Math.PI/2});});
RZ(Z2,155,55,205,72,SAL);RZ(Z2,422,55,470,72,TEA);
GT(Z2,205,65,23,'+/+');GT(Z2,473,65,23,'KI/KI');
TZ(Z2,993,65,'Enriched GO pathway',24);
const BR='#b5343a',TQ='#62b7d2',NV='#3d3a9a',YL='#f2dc3a';
const goLabels=[["Positive regulation of chromosome",567,113,BR],["organization",595,150,BR],["Regulation of chromosome",567,193,BR],["organization",595,230,BR],["Cilium assembly",567,270,BR],["Cilium organization",567,310,BR],["Meiotic cell cycle process",567,346,BR],["DNA conformation process",567,384,BR],
["Nucleus organization",567,464,TQ],["Spermatid development",567,505,TQ],["Spermatid differentiation",567,544,TQ],["Germ cell development",567,582,TQ],["Spermatid nucleus differentiation",567,621,TQ],["cellular process involved in reproduction",567,663,TQ],["in multicellular organism",595,705,TQ],["Mitochondrial respiratory chain",570,747,TQ],["complex assembly",590,787,TQ],
["Fertilization",570,856,NV],["Single fertilization",570,890,NV],["Mitochondrial respiratory chain",570,928,NV],["complex assembly",580,963,NV],["Fusion of sperm to egg plasma membrane",570,1003,NV],["involved in single fertilization",580,1048,NV],
["Negative regulation of protein",567,1328,YL],["complex assembly",578,1380,YL]];
goLabels.forEach(l=>TZ(Z2,l[1],l[2],l[0],21.5,{align:'left',color:l[3]}));
const goDash=[[835,153,BR],[835,231,BR],[872,274,BR],[930,313,BR],[1050,346,BR],[1070,385,BR],[975,467,TQ],[1022,506,TQ],[1033,547,TQ],[1015,584,TQ],[1185,622,TQ],[1055,708,TQ],[950,790,TQ],[795,859,NV],[912,893,NV],[942,966,NV],[1120,1049,NV],[945,1383,YL]];
goDash.forEach(d=>{LN(Z2(d[0],d[1]),Z2(1232,d[1]),d[2],2.5,[11,8]);});
const goQ=[["0.0095",153,BR],["0.0122",214,BR],["0.0122",259,BR],["0.0208",302,BR],["0.0300",346,BR],["0.0411",391,BR],["0.0001",456,TQ],["0.0003",500,TQ],["0.0004",541,TQ],["0.0007",582,TQ],["0.0076",624,TQ],["0.0098",705,TQ],["0.0117",787,'#1ba8c4'],["0.0029",849,NV],["0.0046",891,NV],["0.0549",960,NV],["0.0630",1043,NV],["0.0951",1376,YL]];
goQ.forEach(q=>TZ(Z2,1254,q[1],'({q|q} value '+q[0]+')',21,{align:'left',color:q[2],rich:{q:{fontSize:21,fontFamily:S,fontStyle:'italic',fill:q[2]}}}));

/* ===== panel b ===== */
TZ(Z3,48,50,'b',62,{fam:S,color:'#000'});
graphics.push({type:'rect',z:1,silent:true,shape:{x:1308,y:34,width:478,height:1687.5},style:{fill:'none',stroke:'#9a9a9a',lineWidth:3.5}});
TZ(Z3,905,180,'Build Gene Regulatory Network',30);
const fr={m:{fontSize:25,fontFamily:SER,fontStyle:'italic',fontWeight:'bold',fill:'#222'},p:{fontSize:25,fontFamily:SER,fontWeight:'bold',fill:'#222'},s:{fontSize:15,fontFamily:SER,fontStyle:'italic',verticalAlign:'bottom',fill:'#222'},u:{fontSize:15,fontFamily:SER,fontWeight:'bold',verticalAlign:'bottom',fill:'#222'}};
TZ(Z3,975,238,'{p||}{m|N}{u|1}{p|(}{m|i}{p|) ∩ }{m|N}{u|1}{p|(}{m|j}{p|)| + }{m|a}{s|ij}',25,{fam:SER,rich:fr});
TZ(Z3,975,302,'{m|min}{p|{|}{m|N}{u|1}{p|(}{m|i}{p|)|, |}{m|N}{u|1}{p|(}{m|j}{p|)|}}{p| + 1 − }{m|a}{s|ij}',25,{fam:SER,rich:fr,color:'#222',bold:true});
LN(Z3(515,272),Z3(1435,272),'#333',1.6);
TZ(Z3,350,272,'{m|t}{s|ij}{p|  =}',25,{fam:SER,rich:fr,align:'left'});
const bG=G(1270,0,518,860,ax({min:0,max:1554,show:false}),ax({min:0,max:1568,inverse:true,show:false}));
const bCol={t:'#6fd0c4',w:'#ffffff',b:'#2f4aa8',r:'#9b2d2a',y:'#f0d93a'};
add(bG,{type:'graph',coordinateSystem:'cartesian2d',layout:'none',symbolSize:15,data:bNodesPlain.map(p=>({value:p,itemStyle:{color:'#fff',borderColor:'#888',borderWidth:1.2}})),links:bLinks.map(l=>({source:l[0],target:l[1]})),lineStyle:{color:'#bbb',width:1,opacity:1,curveness:0},label:{show:false}});
add(bG,{type:'graph',coordinateSystem:'cartesian2d',layout:'none',symbolSize:15,data:bNodesColored.map((p,i)=>({value:p,itemStyle:{color:bCol[bClusterOf[i]],borderColor:'#777',borderWidth:.8}})),links:bLinks.map(l=>({source:l[0],target:l[1]})),lineStyle:{color:'#bbb',width:1,opacity:1,curveness:0},label:{show:false}});
function bigArrow(Z,yt,yb,ych){LN(Z(868,yt),Z(868,yb),'#000',6);PL([Z(780,ych),Z(868,yb),Z(958,ych)],'#000',7);}
bigArrow(Z3,775,875,790);bigArrow(Z3,1385,1485,1400);bigArrow(Z4,645,745,660);
TZ(Z3,865,932,'Assign the root cell for RWR',30);
T(1551.7,847,'Measure each gene distance to modules',30);
const fz={m:{fontSize:27,fontFamily:SER,fontStyle:'italic',fontWeight:'bold',fill:'#222'},p:{fontSize:27,fontFamily:SER,fill:'#222'},s:{fontSize:16,fontFamily:SER,fontStyle:'italic',verticalAlign:'bottom',fill:'#222'}};
TZ(Z4,780,45,'{m|z}{s|i}{p|  =  (1 − }{m|r}{p|)}{m|W z}{s|i}{p|  + }{m|re}{s|i}',27,{fam:SER,rich:fz});
function cropPlot(zl,zr,zt,zb,xt,yt){const a=Z4(zl,zt),b=Z4(zr,zb);return G(a[0],a[1],b[0]-a[0],b[1]-a[1],ax({min:zl,max:zr,ticks:xt,lc:'#444',lw:1.2,tl:2}),ax({min:zt,max:zb,inverse:true,ticks:yt,lc:'#444',lw:1.2,tl:2}));}
[[305,870,85,340,[332,470,610,755],[140,205,265,325],curveBrown,190,265,"1-Distance to","Brown Module",210],
 [977,1540,85,340,[1005,1145,1285,1425],[150,210,270,330],curveTurq,853,935,"1-Distance to","Turquoise Module",212],
 [298,845,375,620,[323,460,597,733],[425,485,545,605],curveBlue,190,265,"1-Distance to","Blue Module",500],
 [973,1540,367,620,[1003,1141,1280,1420],[427,487,547,607],curveYellow,853,935,"1-Distance to","Yellow Module",500]].forEach(p=>{
 const g=cropPlot(p[0],p[1],p[2],p[3],p[4],p[5]);
 add(g,{type:'line',data:p[6],symbol:'none',lineStyle:{color:'#111',width:4}});
 TZ(Z4,p[7],p[11],p[9],22,{rot:Math.PI/2});TZ(Z4,p[8],p[11],p[10],22,{rot:Math.PI/2});});
const dotG=cropPlot(305,870,85,340);xAxes[dotG].axisLine.show=false;yAxes[dotG].axisLine.show=false;
add(dotG,{type:'scatter',data:[[330,95]],symbolSize:4,itemStyle:{color:'#111',opacity:1}});
TZ(Z4,898,775,'Analyze Driver Candidates',30);
const pr={m:{fontSize:26,fontFamily:SER,fontStyle:'italic',fill:'#333'},s:{fontSize:17,fontFamily:SER,fontStyle:'italic',verticalAlign:'bottom',fill:'#333'},p:{fontSize:26,fontFamily:SER,fill:'#333'}};
TZ(Z4,880,835,'{m|P}{s|score}{p| = }{m|P}{s|brown}{m|P}{s|yellow}{m|P}{s|turquoise}{m|P}{s|yellow}',26,{fam:SER,rich:pr});
{const a=Z4(447,905),b=Z4(1262,1108);
 const g=G(a[0],a[1],b[0]-a[0],b[1]-a[1],ax({min:447,max:1262,ticks:[483,668,852,1037,1222],lc:'#444',lw:1.2,tl:2}),ax({min:0,max:203,lc:'#444',lw:1.2}));
 add(g,{type:'line',data:densityScore,symbol:'none',lineStyle:{width:0},areaStyle:{opacity:1,origin:'start',color:new echarts.graphic.LinearGradient(0,0,1,0,[{offset:0,color:'#452a7e'},{offset:.3,color:'#3e4a89'},{offset:.55,color:'#2a7d8e'},{offset:.8,color:'#35b779'},{offset:1,color:'#a5db36'}])}});
 LN(Z4(1012,920),Z4(1012,1105),'#d9534f',2.2);
 PL([Z4(1063,1097),Z4(1095,1040)],'#c0392b',2);
 TZ(Z4,1022,960,'Driver',22,{align:'left',fam:S});TZ(Z4,1022,1017,'Candidates',22,{align:'left',fam:S});
 TZ(Z4,385,995,'No,gene',28,{rot:Math.PI/2});
 TZ(Z4,825,1138,'Association Score',29,{fam:S});}
{const a=Z4(437,1172),b=Z4(1268,1472);
 const g=G(a[0],a[1],b[0]-a[0],b[1]-a[1],ax({min:437,max:1268,ticks:[635,830,1030,1228],lc:'#444',lw:1.2,tl:2}),ax({min:1172,max:1472,inverse:true,ticks:[1245,1317,1388,1460],lc:'#444',lw:1.2,tl:2}));
 add(g,{type:'line',data:exprSalmon,symbol:'none',smooth:.3,lineStyle:{color:'#e58b85',width:1.3}});
 add(g,{type:'line',data:exprTeal1,symbol:'none',smooth:.3,lineStyle:{color:'#54bdb6',width:1.3}});
 add(g,{type:'line',data:exprTeal2,symbol:'none',smooth:.3,lineStyle:{color:'#54bdb6',width:1.3}});
 TZ(Z4,382,1322,'Gene Expression',26,{rot:Math.PI/2});
 TZ(Z4,825,1495,'pesudotime',28,{fam:S});}

/* ===== panel c ===== */
panelLetter(Z5,100,60,'c');
T(332.5,924,'The RWR score of Driver Candidates',27.2,{fam:S});
const barFont={fontFamily:S,fontSize:18,color:'#222',interval:0,margin:5};
{const x=ax({min:-.009,max:.188,ticks:[0,.05,.1,.15],fmt:fmt2,fs:17,margin:6,lc:'#222',lw:2});
 const y={type:'category',data:rwrGenes,inverse:true,axisLine:{lineStyle:{color:'#222',width:2}},axisTick:{length:3,alignWithLabel:true,lineStyle:{color:'#222'}},axisLabel:barFont,splitLine:{show:false}};
 const g=G(156.6,943,292.9,351.4,x,y);
 add(g,{type:'bar',data:rwrScores.map(v=>({value:v,itemStyle:{color:lerpC(VIR,(v-.058)/.122)}})),barWidth:15.5});
 CB(442,1086,33,140,VIR.slice().reverse());
 [[1093,'0.18'],[1126,'0.15'],[1160,'0.12'],[1190.7,'0.09'],[1220,'0.06']].forEach(l=>T(478.6,l[0],l[1],19,{align:'left',fam:S}));
 T(474,1063,'brown_score',23,{fam:S});
 T(326,1339,'RWR score',30,{fam:S});}
/* ===== panel d ===== */
panelLetter(Z6,270,55,'d');
T(1032,928.6,'The degree ranking of brown module',27.2,{fam:S});
{const x=ax({min:-.44,max:8.85,ticks:[0,2,4,6,8],fmt:v=>String(v),fs:17,margin:6,lc:'#222',lw:2});
 const y={type:'category',data:degGenes,inverse:true,axisLine:{lineStyle:{color:'#222',width:2}},axisTick:{length:3,alignWithLabel:true,lineStyle:{color:'#222'}},axisLabel:barFont,splitLine:{show:false}};
 const g=G(857,947.8,313.7,351,x,y);
 add(g,{type:'bar',data:degValues.map(v=>({value:v,itemStyle:{color:lerpC(VIR,(v-2.63)/5.82)}})),barWidth:15.5});
 CB(1192,1089,33,143,VIR.slice().reverse());
 [[1103,'8'],[1127,'7'],[1150.7,'6'],[1171,'5'],[1194.6,'4'],[1219,'3']].forEach(l=>T(1230,l[0],l[1],22,{align:'left',fam:S}));
 T(1200,1071,'degree',23,{fam:S});
 T(1019.6,1340,'Degree',29,{fam:S});}
/* ===== panel e ===== */
panelLetter(Z5,100,912,'e');
{const g=G(0,860,660,860,ax({min:0,max:1568,show:false}),ax({min:0,max:1568,inverse:true,show:false}));
 const nodes=[],links=[];
 const push=(p,c,sz)=>{nodes.push({value:p,symbolSize:sz||[13,9],itemStyle:{color:c}});return nodes.length-1;};
 const hubIdx=h=>h.map(p=>push(p,'#7f7f8a',[6,6]));
 const hT=hubIdx(eHubsTurq),hB=hubIdx(eHubsBlue),hR=hubIdx(eHubsBrown);
 const near=(p,hubs,idx)=>{let b=0,bd=1e12;hubs.forEach((h,i)=>{const d=(h[0]-p[0])**2+(h[1]-p[1])**2;if(d<bd){bd=d;b=i;}});return idx[b];};
 const thin={color:'#b0b0b6',width:.7,opacity:1,curveness:0};
 eTurq.forEach((p,i)=>{const n=push(p,'#7ddccc');links.push({source:n,target:near(p,eHubsTurq,hT),lineStyle:thin});links.push({source:n,target:hT[i%3],lineStyle:thin});});
 eTurqCore.forEach((p,i)=>{const n=push(p,'#7ddccc',[20,15]);links.push({source:n,target:hT[i%3],lineStyle:thin});});
 eBlue.forEach((p,i)=>{const core=p[1]>1130&&p[1]<1300&&p[0]>820;const n=push(p,'#3a50b0',core?[17,13]:[13,9]);links.push({source:n,target:near(p,eHubsBlue,hB),lineStyle:thin});links.push({source:n,target:hB[i%2],lineStyle:thin});if(i%3==0)links.push({source:n,target:hT[i%3?1:2],lineStyle:thin});});
 eYellow.forEach((p,i)=>{const n=push(p,'#f3df43');links.push({source:n,target:hB[i%2],lineStyle:thin});links.push({source:n,target:hT[2],lineStyle:thin});});
 const elf=push(eElfn2,'#f0402a',[16,11]);
 eBrown.forEach((p,i)=>{const n=push(p,'#a83a40');links.push({source:n,target:hR[0],lineStyle:thin});links.push({source:n,target:elf,lineStyle:thin});});
 [hB[0],hB[1],hT[0],hT[1],hT[2]].forEach(h=>links.push({source:elf,target:h,lineStyle:thin}));
 links.push({source:hT[0],target:hB[0],lineStyle:thin},{source:hT[1],target:hB[0],lineStyle:thin},{source:hT[2],target:hB[1],lineStyle:thin},{source:hR[0],target:hB[1],lineStyle:thin},{source:hB[0],target:hB[1],lineStyle:{color:'#8a8a92',width:2,opacity:1,curveness:0}});
 add(g,{type:'graph',coordinateSystem:'cartesian2d',layout:'none',data:nodes,links,label:{show:false},lineStyle:thin});
 add(g,{type:'scatter',data:eGreyPatches,symbol:'circle',symbolSize:[15,9],itemStyle:{color:'#80808c',opacity:1},z:4});
 LN(Z5(1135,1250),Z5(1135,1100),'#000',3.2);PL([Z5(1103,1137),Z5(1135,1100),Z5(1170,1137)],'#000',3.2);
 TZ(Z5,1185,1063,'Elfn2',33,{fam:S,it:true});}
/* ===== panel f ===== */
panelLetter(Z6,275,900,'f');
{const g=G(825.7,1378,403.3,281.7,ax({min:-.049,max:1.05,ticks:[0,.25,.5,.75,1],fmt:fmt2,fs:19,margin:6,lc:'#222',lw:2}),ax({min:-1.787,max:1.4,ticks:[-1,0,1],fmt:v=>String(v),fs:19,margin:6,lc:'#222',lw:2}));
 fTeal.forEach(r=>add(g,{type:'line',data:r.map((v,i)=>[fX[i],v]),symbol:'none',smooth:.35,lineStyle:{color:'#17bcc4',width:1.8}}));
 add(g,{type:'line',data:fSalmon,symbol:'none',smooth:.3,lineStyle:{color:'#ef7b6c',width:1.8},z:3});
 T(787.8,1515.5,'Gene Expression',34,{rot:Math.PI/2,fam:S});
 T(1059,1695,'pesudotime',30,{fam:S});}
/* ===== panel g ===== */
panelLetter(Z7,70,112,'g');
const UMCB=['#eee466','#cfc948','#6f6c25','#111111','#16163a','#2a2a6c','#30307a'];
function umapPlot(left,right,xmin,xmax,xt,x0,navy,black,olive,yellow){
 const g=G(left,1776.6,right-left,318.8,ax({min:xmin,max:xmax,ticks:xt,fmt:v=>String(v),fs:22,margin:5,lc:'#444',lw:2.2}),ax({min:-6.85,max:12.9,ticks:[-5,0,5,10],fmt:v=>String(v),fs:22,margin:4,lc:'#444',lw:2.2}));
 const pts=r=>{const o=[];r.forEach(a=>{for(let c=a[1];c<=a[2];c++)o.push([x0+.4*c+(a[0]%2?.2:0),12.6-.4*a[0]]);});return o;};
 [[navy,'#2a2a6c',7.8],[black,'#111',6.5],[olive,'#85852e',6],[yellow,'#dcdc4e',6]].forEach(s=>add(g,{type:'scatter',data:pts(s[0]),symbolSize:s[2],itemStyle:{color:s[1],opacity:1},progressive:0}));}
umapPlot(68.6,427,-11.77,6.86,[-10,-5,0,5],-11.6,gLNavy,gLBlack,gLOlive,gLYellow);
umapPlot(531.5,900.6,-12.9,6.84,[-10,-5,0,5],-12.6,gRNavy,gRBlack,gROlive,gRYellow);
const RED='#d9352a';
function arrowHead(a,b,len,wid){const dx=b[0]-a[0],dy=b[1]-a[1],L=Math.hypot(dx,dy),ux=dx/L,uy=dy/L;graphics.push({type:'polygon',z:99,silent:true,shape:{points:[b,[b[0]-ux*len-uy*wid,b[1]-uy*len+ux*wid],[b[0]-ux*len+uy*wid,b[1]-uy*len-ux*wid]]},style:{fill:RED}});}
EL(268,2046,47,46.6,RED,4.5);EL(170,1864,87,80,RED,6);LN([233,2012],[207,1950],RED,3.5);arrowHead([233,2012],[205,1941],14,6);
EL(751,2046,48.7,46.7,RED,4.5);EL(643.6,1867.4,88,80,RED,6);LN([717,2013.4],[694,1948],RED,3.5);arrowHead([717,2013.4],[692,1939.6],14,6);
T(249,1769,'Elfn2',31,{fam:S,it:true});T(729,1769,'Elfn2',31,{fam:S,it:true});
T(26.4,1918,'UMAP_2',30,{rot:Math.PI/2,fam:S});T(488,1918,'UMAP_2',30,{rot:Math.PI/2,fam:S});
function umapX(x,y,s){T(x,y,'{u|UMAP_1 (}{d|Ddx43}{s|'+s+'}{u|)}',30,{fam:S,rich:{u:{fontSize:31,fontFamily:S,fill:'#111'},d:{fontSize:31,fontFamily:S,fontStyle:'italic',fill:'#111'},s:{fontSize:17,fontFamily:S,verticalAlign:'top',fill:'#111'}}});}
umapX(272.8,2139.7,'+/+');umapX(733.4,2139.7,'KI/KI');
CB(410,1965,25,121.5,UMCB);CB(880,1968,25,119,UMCB);
[[1976,'2'],[2026.5,'1'],[2074,'0']].forEach(l=>T(439,l[0],l[1],26,{align:'left'}));
[[1980,'2'],[2028,'1'],[2076,'0']].forEach(l=>T(909,l[0],l[1],26,{align:'left'}));
/* ===== panel h ===== */
panelLetter(Z8,75,88,'h');
TZ(Z8,228,152,'RPKM',21,{fam:S});
[[track1,405,340,'+/+'],[track2,699,640,'+/+'],[track3,992,925,'KI/KI'],[track4,1285,1215,'KI/KI']].forEach(t=>{
 const a=Z8(163,t[1]-193),b=Z8(1515,t[1]);
 const g=G(a[0],a[1],b[0]-a[0],b[1]-a[1],ax({min:163,max:1515,lc:'#333',lw:2.2}),ax({min:0,max:400,ticks:[0,400],fmt:v=>String(v),fs:21,margin:3,lc:'#666',lw:1,tick:false}));
 add(g,{type:'line',data:t[0],symbol:'none',lineStyle:{color:'#1c2a80',width:.8},areaStyle:{color:'#1c2a80',opacity:1,origin:'start'}});
 GT(Z8,1282,t[2],31,t[3]);});
LN(Z8(48,1357),Z8(1530,1357),'#d5d8e6',1.2);
const NVY='#1c2a80';
RZ(Z8,243,1318,370,1347,NVY);RZ(Z8,370,1308,440,1357,NVY);RZ(Z8,440,1318,453,1347,NVY);RZ(Z8,1403,1320,1407,1347,NVY);
RZ(Z8,328,1373,370,1402,NVY);RZ(Z8,370,1363,440,1411,NVY);RZ(Z8,440,1373,453,1402,NVY);RZ(Z8,1445,1375,1454,1400,NVY);
LN(Z8(453,1332),Z8(1405,1332),'#a9afd0',1.5);LN(Z8(453,1388),Z8(1446,1388),'#a9afd0',1.5);
for(let x=480;x<=1400;x+=37.3){PL([Z8(x+8,1322),Z8(x,1332),Z8(x+8,1342)],'#8e96c4',1.1);PL([Z8(x+8,1378),Z8(x,1388),Z8(x+8,1398)],'#8e96c4',1.1);}
TZ(Z8,1445,1460,'Elfn2',29,{fam:S,it:true});
/* ===== panels i, j ===== */
TZ(Z9,65,130,'i',62,{fam:S,color:'#000'});
TZ(Z10,40,130,'j',62,{fam:S,color:'#000'});
function phase(f,xr,xt,yr,yt,up,down,dash,groups,lw){
 const g=G(f[0],f[1],f[2]-f[0],f[3]-f[1],ax({min:xr[0],max:xr[1],ticks:xt,fmt:v=>String(v),fs:20,margin:4,line:false,tl:3,lc:'#666'}),ax({min:yr[0],max:yr[1],ticks:yt,fmt:v=>v.toFixed(1),fs:20,margin:3,line:false,tl:3,lc:'#666'}),{show:true,borderColor:'#8a8a8a',borderWidth:2,backgroundColor:'#fff'});
 groups.forEach(s=>add(g,{type:'scatter',data:s[0],symbolSize:s[2],itemStyle:{color:s[1],opacity:s[3]||1},progressive:0}));
 add(g,{type:'line',data:dash,symbol:'none',lineStyle:{color:'#b34aa0',width:1.1,type:'dashed'}});
 add(g,{type:'line',data:up,symbol:'none',smooth:.35,lineStyle:{color:'#7b3f98',width:lw}});
 add(g,{type:'line',data:down,symbol:'none',smooth:.35,lineStyle:{color:'#7b3f98',width:lw}});}
const PK='#d67ab8';
phase([54.2,2251.6,347.6,2493.7],[-.425,8.07],[0,3,6],[-.0467,.872],[0,.3,.6],i1LoopUp,i1LoopDown,i1Dashed,[[i1DenseUp,PK,5.5],[i1DenseLow,PK,5.5],[i1Top,PK,2.6],[i1Mid,PK,3],[i1Right,PK,2.8],[i1Low,'#c9332e',3.5],[[[.15,.045],[.12,.03]],'#3a7cb0',4],[[[.06,.065],[.05,.08]],'#e8832b',4]],2.6);
phase([532.6,2251,840.6,2493.7],[-.166,3.86],[0,2],[-.052,.979],[0,.4,.8],i2LoopUp,i2LoopDown,i2Dashed,[[i2Dense,PK,6.5],[i2Col,PK,2.6],[i2Bottom,PK,2.6],[i2Green,'#4ba03a',6]],2);
const vc=(v,a)=>lerpC(VIR,(v+a)/(2*a));
phase([1053,2251.6,1345.9,2493.7],[-.39,7.99],[0,3,6],[-.0467,.872],[0,.3,.6],i1LoopUp,i1LoopDown,i1Dashed,[[i1DenseUp,vc(.2,.8),5.5],[i1DenseLow,vc(.62,.8),5.5],[i1Top,vc(.62,.8),2.8],[i1Mid,vc(.68,.8),3],[i1Right,vc(-.15,.8),3],[i1Low,vc(-.75,.8),3.5]],2.6);
phase([1447.4,2253,1759.7,2492.4],[-.182,3.91],[0,2],[-.052,.979],[0,.4,.8],i2LoopUp,i2LoopDown,i2Dashed,[[i2Dense,vc(-.2,3),6.5],[i2Col.filter((_,i)=>i%2==0),vc(2.2,3),3],[i2Col.filter((_,i)=>i%2==1),vc(.3,3),3],[i2Bottom,vc(-.5,3),3]],2);
T(12,2368,'unspliced',24,{rot:Math.PI/2,fam:S});T(486,2368,'unspliced',24,{rot:Math.PI/2,fam:S});T(1005.8,2368,'unspliced',24,{rot:Math.PI/2,fam:S});T(1398.4,2368,'unspliced',24,{rot:Math.PI/2,fam:S});
function spliced(x,s){T(x,2523,'{u|spliced(}{d|Ddx43}{s|'+s+'}{u|)}',28,{sx:.92,rich:{u:{fontSize:29,fontFamily:S,fill:'#111'},d:{fontSize:22,fontFamily:S,fontStyle:'italic',fill:'#111'},s:{fontSize:13,fontFamily:S,verticalAlign:'top',fill:'#111'}}});}
spliced(199.6,'+/+');spliced(679,'KI/KI');spliced(1192.3,'+/+');spliced(1583,'KI/KI');
[[298.5,2276],[789.6,2276],[1300.5,2276],[1706.6,2276]].forEach(p=>T(p[0],p[1],'Elfn2',27,{it:true,fam:S}));
const legYs=[[2261.6,2293.9,2325.5,2358,2390.8,2423,2456.4],[2261.6,2293.9,2326,2358,2392,2424.8,2456.4]];
[[362,370.6,0],[854.6,865.5,1]].forEach(c=>cellTypes.forEach((t,i)=>{const y=legYs[c[2]][i];
 graphics.push({type:'circle',z:99,silent:true,shape:{cx:c[0],cy:y,r:7.5},style:{fill:cellColors[i]}});
 T(c[1],y,t,21,{align:'left',bold:true,color:'#222'});}));
CB(1340.7,2420.4,5.7,73.3,VIR.slice().reverse());CB(1753.5,2420,6.2,72,VIR.slice().reverse());
[[2423,'0.8'],[2455.7,'0.0'],[2487,'-0.8']].forEach(l=>T(1352,l[0],l[1],24,{align:'left'}));
[[2425.8,'3'],[2455.7,'0'],[2484.7,'-3']].forEach(l=>T(1764,l[0],l[1],24,{align:'left'}));

const chart=echarts.init(document.getElementById('c'),null,{renderer:'canvas',width:1788,height:2538});
chart.setOption({backgroundColor:'#fff',animation:false,grid:grids,xAxis:xAxes,yAxis:yAxes,series,visualMap:visualMaps,graphic:{elements:graphics},tooltip:{show:false}});
</script></body></html>
